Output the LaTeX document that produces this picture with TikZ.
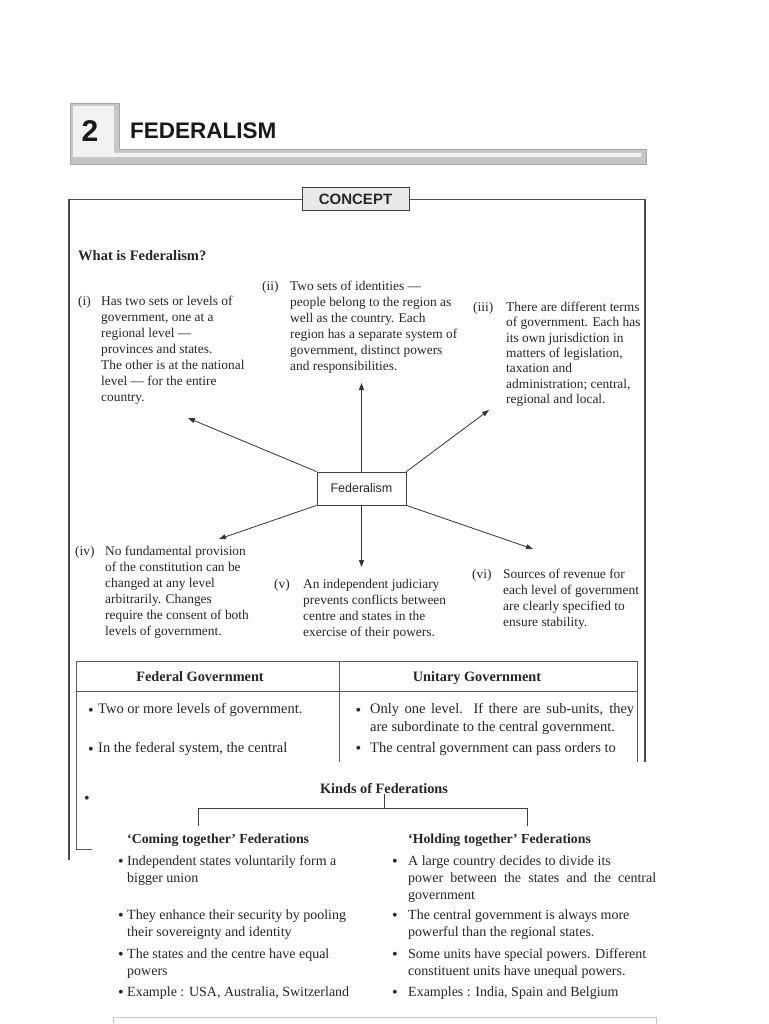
\documentclass[tikz,border=0pt]{standalone}
\usepackage{fontspec}
\setmainfont{Liberation Serif}
\newfontfamily\hdsans{Liberation Sans}
\usetikzlibrary{arrows.meta}
\newcommand{\bul}{\raisebox{-1.6pt}{\fontsize{16}{16}\selectfont\textbullet}}
\begin{document}
\begin{tikzpicture}[x=1pt,y=-1pt,
  every node/.style={inner sep=0pt, text=black!85},
  body/.style={font=\fontsize{13.4}{16}\selectfont, align=left, anchor=north west},
  bodyb/.style={font=\fontsize{13.4}{15.4}\selectfont, align=left, anchor=north west},
  tbl/.style={font=\fontsize{14.5}{18}\selectfont, align=left, anchor=north west},
  tblj/.style={font=\fontsize{14.5}{18}\selectfont, align=justify, anchor=north west},
  bot/.style={font=\fontsize{14}{17}\selectfont, align=left, anchor=north west},
  botj/.style={font=\fontsize{14}{17}\selectfont, align=justify, anchor=north west},
  head/.style={font=\bfseries\fontsize{14.3}{16}\selectfont, anchor=base},
  headw/.style={font=\bfseries\fontsize{13.8}{16}\selectfont, anchor=base west},
  frameline/.style={draw=black!70, line width=1.2pt},
  tline/.style={draw=black!65, line width=1pt},
  arr/.style={draw=black!80, line width=0.8pt, -{Triangle[length=7pt,width=5pt]}},
  tree/.style={draw=black!75, line width=0.8pt}
]
\useasboundingbox (0,0) rectangle (768,1024);
\fill[white] (0,0) rectangle (768,1024);

% ---------- header ----------
\fill[gray!45] (70,103) -- (119,103) -- (119,149) -- (646,149) -- (646,164) -- (70,164) -- cycle;
\fill[gray!10] (73,106) -- (114,106) -- (114,153) -- (641,153) -- (641,157) -- (73,157) -- cycle;
\draw[gray!70, line width=0.8pt] (70,103) -- (119,103) -- (119,149) -- (646,149) -- (646,164) -- (70,164) -- cycle;
\node[font=\hdsans\bfseries\fontsize{30}{30}\selectfont, text=black!90] (num) at (90,131) {2};
\node[font=\hdsans\bfseries\fontsize{22.5}{22.5}\selectfont, anchor=base west, text=black!90] (title) at (130,138.5) {FEDERALISM};

% ---------- concept frame ----------
\node[draw=black!75, fill=gray!18, line width=1pt, minimum width=107pt, minimum height=23pt,
      font=\hdsans\bfseries\fontsize{15}{15}\selectfont] (concept) at (355.5,199.5) {CONCEPT};
\draw[frameline] (concept.west) -- (69,199.5) -- (69,860);
\draw[frameline] (concept.east) -- (645,199.5) -- (645,762);

\node[font=\bfseries\fontsize{14.5}{16}\selectfont, anchor=base west] (what) at (78,260) {What is Federalism?};

\node[body] (l1) at (78,295.7) {(i)};
\node[body] (t1) at (101,295.7) {Has two sets or levels of\\government, one at a\\regional level —\\provinces and states.\\The other is at the national\\level — for the entire\\country.};

\node[body] (l2) at (262,280.7) {(ii)};
\node[body] (t2) at (290,280.7) {Two sets of identities —\\people belong to the region as\\well as the country. Each\\region has a separate system of\\government, distinct powers\\and responsibilities.};

\node[bodyb] (l3) at (473,301.7) {(iii)};
\node[bodyb] (t3) at (506,301.7) {There are different terms\\of government. Each has\\its own jurisdiction in\\matters of legislation,\\taxation and\\administration; central,\\regional and local.};

\node[body] (l4) at (75,545.7) {(iv)};
\node[body] (t4) at (105,545.7) {No fundamental provision\\of the constitution can be\\changed at any level\\arbitrarily. Changes\\require the consent of both\\levels of government.};

\node[body] (l5) at (274,578.7) {(v)};
\node[body] (t5) at (303,578.7) {An independent judiciary\\prevents conflicts between\\centre and states in the\\exercise of their powers.};

\node[body] (l6) at (472,568.7) {(vi)};
\node[body] (t6) at (503,568.7) {Sources of revenue for\\each level of government\\are clearly specified to\\ensure stability.};

% centre
\node[draw=black!75, line width=0.8pt, fill=white, minimum width=89pt, minimum height=33pt,
      font=\hdsans\fontsize{12.5}{12.5}\selectfont] (fed) at (361.5,488.5) {Federalism};

\coordinate (a1) at (188,418);
\coordinate (a2) at (361.5,383);
\coordinate (a3) at (489,410);
\coordinate (a4) at (219,539);
\coordinate (a5) at (361.5,567);
\coordinate (a6) at (533,549);
\draw[arr] (fed.north west) -- (a1);
\draw[arr] (fed.north) -- (a2);
\draw[arr] (fed.north east) -- (a3);
\draw[arr] (fed.south west) -- (a4);
\draw[arr] (fed.south) -- (a5);
\draw[arr] (fed.south east) -- (a6);

% ---------- table ----------
\draw[tline] (92,849) -- (76,849) -- (76,661) -- (637,661) -- (637,762);
\draw[tline] (76,691) -- (637,691);
\draw[tline] (339,661) -- (339,762);
\node[head] (fedgov) at (200,681) {Federal Government};
\node[head] (unigov) at (477,681) {Unitary Government};

\node[tbl] (f1) at (98,703) {\llap{\bul\hspace{4.5pt}}Two or more levels of government.};
\node[tbl] (f2) at (98,742) {\llap{\bul\hspace{4.5pt}}In the federal system, the central};
\node[tblj, text width=264pt] (u1) at (370,703) {\llap{\bul\hspace{9pt}}Only one level. If there are sub-units, they\linebreak are subordinate to the central government.};
\node[tbl] (u2) at (370,742) {\llap{\bul\hspace{9pt}}The central government can pass orders to};
\node[tbl] (f3) at (84,796) {\bul};

% ---------- kinds of federations ----------
\node[head, inner sep=1pt] (kinds) at (384,793) {Kinds of Federations};
\coordinate (ct) at (198,826);
\coordinate (ht) at (527,826);
\coordinate (br) at (527,808);
\draw[tree] (kinds.south) -- (kinds.south |- br);
\draw[tree] (ct) |- (br) -- (ht);

\node[headw] (coming) at (127,843) {‘Coming together’ Federations};
\node[headw] (holding) at (408,843) {‘Holding together’ Federations};

\node[bot] (c1) at (127,855.3) {\llap{\bul\hspace{3.5pt}}Independent states voluntarily form a\\bigger union};
\node[bot] (c2) at (127,909.3) {\llap{\bul\hspace{3.5pt}}They enhance their security by pooling\\their sovereignty and identity};
\node[bot] (c3) at (127,948.3) {\llap{\bul\hspace{3.5pt}}The states and the centre have equal\\powers};
\node[bot] (c4) at (127,986.3) {\llap{\bul\hspace{3.5pt}}Example : USA, Australia, Switzerland};

\node[botj, text width=248pt] (h1) at (408,855.3) {\llap{\bul\hspace{10.5pt}}A large country decides to divide its\newline power between the states and the central\linebreak government};
\node[bot] (h2) at (408,909.3) {\llap{\bul\hspace{10.5pt}}The central government is always more\\powerful than the regional states.};
\node[bot] (h3) at (408,948.3) {\llap{\bul\hspace{10.5pt}}Some units have special powers. Different\\constituent units have unequal powers.};
\node[bot] (h4) at (408,986.3) {\llap{\bul\hspace{10.5pt}}Examples : India, Spain and Belgium};

\draw[gray!45, line width=0.8pt] (113,1030) -- (113,1017) -- (656,1017) -- (656,1030);
\end{tikzpicture}
\end{document}
